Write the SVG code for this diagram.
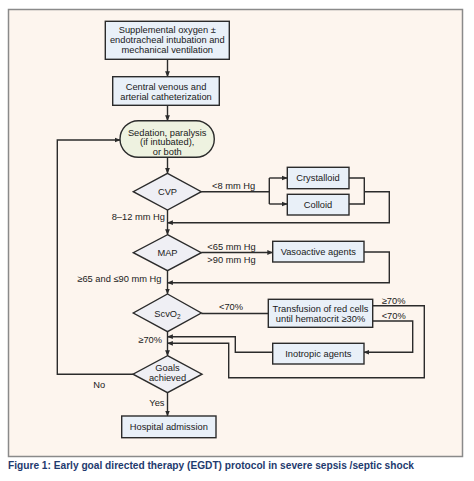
<svg xmlns="http://www.w3.org/2000/svg" width="474" height="481" viewBox="0 0 474 481">
<style>
.bg{fill:#fdf5ee;stroke:#8a8a8a;stroke-width:1.5}
.box{fill:#e9f0f8;stroke:#2b2b2b;stroke-width:1.4}
.dia{fill:#efeff4;stroke:#2b2b2b;stroke-width:1.4}
.stad{fill:#eef2e0;stroke:#2b2b2b;stroke-width:1.4}
.c{fill:none;stroke:#2b2b2b;stroke-width:1.4}
text{font-family:"Liberation Sans",Arial,sans-serif;font-size:9.3px;fill:#1a1a1a}
.m{text-anchor:middle}
.cap{font-size:10px;font-weight:bold;fill:#1e3a6e}
</style>
<defs>
<marker id="a" viewBox="0 0 10 10" refX="9" refY="5" markerWidth="6" markerHeight="6" markerUnits="userSpaceOnUse" orient="auto">
<path d="M0,1 L10,5 L0,9 z" fill="#2b2b2b"/>
</marker>
</defs>
<rect class="bg" x="8.5" y="9.5" width="454" height="447"/>
<g id="connectors">
<path class="c" d="M167.5,59.3 V76.7" marker-end="url(#a)"/>
<path class="c" d="M167.5,105.3 V120.7" marker-end="url(#a)"/>
<path class="c" d="M167.5,157.3 V173.3" marker-end="url(#a)"/>
<path class="c" d="M201.3,191.7 H269.3 M269.3,178 V204"/>
<path class="c" d="M269.3,178 H287.3" marker-end="url(#a)"/>
<path class="c" d="M269.3,204 H287.3" marker-end="url(#a)"/>
<path class="c" d="M349,178 H364.3 V204 H349"/>
<path class="c" d="M364.3,191.7 H389.3 V222.7 H167.5" marker-end="url(#a)"/>
<path class="c" d="M167.5,210 V234.7" marker-end="url(#a)"/>
<path class="c" d="M201.3,252.5 H272.7" marker-end="url(#a)"/>
<path class="c" d="M364,252 H389.3 V282.7 H167.5" marker-end="url(#a)"/>
<path class="c" d="M167.5,270.7 V294" marker-end="url(#a)"/>
<path class="c" d="M201.3,313.5 H268.3"/>
<path class="c" d="M372.7,305.7 H424.3 V377.7 H228.7 V343.3 H167.5" marker-end="url(#a)"/>
<path class="c" d="M372.7,321 H412.7 V352.3 H364" marker-end="url(#a)"/>
<path class="c" d="M272.7,352.3 H235.3 V336.7 H167.5" marker-end="url(#a)"/>
<path class="c" d="M167.5,331.7 V355.7" marker-end="url(#a)"/>
<path class="c" d="M133.3,374.2 H57.3 V140 H120" marker-end="url(#a)"/>
<path class="c" d="M167.5,392.7 V416" marker-end="url(#a)"/>
</g>
<g id="labels">
<text x="212" y="189">&lt;8 mm Hg</text>
<text x="111.7" y="220">8–12 mm Hg</text>
<text x="207.3" y="250">&lt;65 mm Hg</text>
<text x="207.3" y="262.5">&gt;90 mm Hg</text>
<text x="77.3" y="282">≥65 and ≤90 mm Hg</text>
<text x="219" y="310">&lt;70%</text>
<text x="381.7" y="303.5">≥70%</text>
<text x="381.7" y="318.5">&lt;70%</text>
<text x="138.3" y="342.5">≥70%</text>
<text x="93.3" y="387.5">No</text>
<text x="149.3" y="405.5">Yes</text>
</g>
<g id="n1">
<rect class="box" x="105.3" y="21.3" width="124" height="38"/>
<text class="m" x="167.3" y="33.3">Supplemental oxygen ±</text>
<text class="m" x="167.3" y="43.3">endotracheal intubation and</text>
<text class="m" x="167.3" y="53.3">mechanical ventilation</text>
</g>
<g id="n2">
<rect class="box" x="112.7" y="76.7" width="106.6" height="28.6"/>
<text class="m" x="166" y="90">Central venous and</text>
<text class="m" x="166" y="100">arterial catheterization</text>
</g>
<g id="n3">
<rect class="stad" x="120" y="120.7" width="94.3" height="36.6" rx="18.3"/>
<text class="m" x="167.2" y="135.5">Sedation, paralysis</text>
<text class="m" x="167.2" y="145">(if intubated),</text>
<text class="m" x="167.2" y="154.5">or both</text>
</g>
<g id="cvp">
<polygon class="dia" points="167.5,173.3 201.3,191.7 167.5,210 133.3,191.7"/>
<text class="m" x="167.5" y="195">CVP</text>
</g>
<g id="crystalloid">
<rect class="box" x="287.3" y="167.3" width="61.7" height="21.4"/>
<text class="m" x="318" y="181.3">Crystalloid</text>
</g>
<g id="colloid">
<rect class="box" x="287.3" y="194.3" width="61.7" height="20.7"/>
<text class="m" x="318" y="208">Colloid</text>
</g>
<g id="map">
<polygon class="dia" points="167.5,234.7 201.3,252.7 167.5,270.7 133.3,252.7"/>
<text class="m" x="167.5" y="256">MAP</text>
</g>
<g id="vaso">
<rect class="box" x="272.7" y="241.3" width="91.3" height="20.7"/>
<text class="m" x="318.3" y="255">Vasoactive agents</text>
</g>
<g id="scvo2">
<polygon class="dia" points="167.5,294 201.3,313 167.5,331.7 133.3,313"/>
<text class="m" x="167.5" y="316.5">ScvO<tspan font-size="6.5" dy="2">2</tspan></text>
</g>
<g id="transfusion">
<rect class="box" x="268.3" y="299.3" width="104.4" height="28"/>
<text class="m" x="320.5" y="312.3">Transfusion of red cells</text>
<text class="m" x="320.5" y="321.8">until hematocrit ≥30%</text>
</g>
<g id="inotropic">
<rect class="box" x="272.7" y="343.3" width="91.3" height="20.7"/>
<text class="m" x="318.3" y="357">Inotropic agents</text>
</g>
<g id="goals">
<polygon class="dia" points="167.5,355.7 202,374.2 167.5,392.7 133,374.2"/>
<text class="m" x="167.5" y="371.3">Goals</text>
<text class="m" x="167.5" y="381">achieved</text>
</g>
<g id="hospital">
<rect class="box" x="121.7" y="416" width="94.3" height="21.7"/>
<text class="m" x="168.8" y="430.2">Hospital admission</text>
</g>
<text class="cap" x="8" y="469" textLength="406" lengthAdjust="spacingAndGlyphs">Figure 1: Early goal directed therapy (EGDT) protocol in severe sepsis /septic shock</text>
</svg>
